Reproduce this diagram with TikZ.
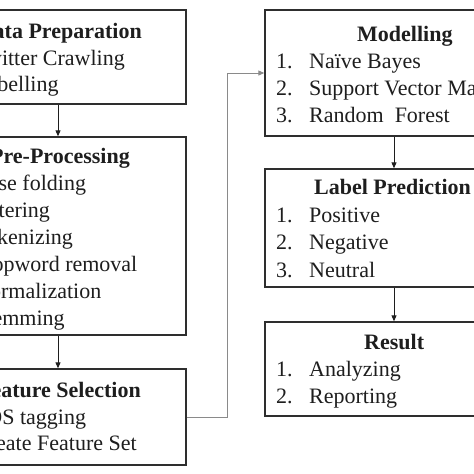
\documentclass[tikz,border=0pt]{standalone}
\usepackage{fontspec}
\setmainfont{Liberation Serif}
\usetikzlibrary{arrows.meta}
\definecolor{ink}{HTML}{1E1E1E}
\definecolor{edge}{HTML}{2E2E2E}
\definecolor{link}{HTML}{8A8A8A}
\tikzset{
  box/.style={draw=edge, line width=1.4pt, rectangle, inner sep=0pt},
  txt/.style={anchor=base west, inner sep=0pt, text=ink, font=\fontsize{22}{26}\selectfont},
  head/.style={txt, font=\fontsize{22}{26}\selectfont\bfseries},
  flow/.style={draw=ink, line width=1pt, -{Triangle[length=6pt,width=5pt]}},
  feed/.style={draw=link, line width=1pt, -{Triangle[length=6pt,width=5pt]}}
}
\begin{document}
\begin{tikzpicture}[x=1pt,y=-1pt]
\useasboundingbox (0,0) rectangle (474,474);
\clip (0,0) rectangle (474,474);
\fill[white] (0,0) rectangle (474,474);
% boxes
\node[box, minimum width=256pt, minimum height=94pt] (b1) at (58,57) {};
\node[box, minimum width=256pt, minimum height=198pt] (b2) at (58,236) {};
\node[box, minimum width=256pt, minimum height=96pt] (b3) at (58,417) {};
\node[box, minimum width=258pt, minimum height=126pt] (b4) at (394,73) {};
\node[box, minimum width=258pt, minimum height=118pt] (b5) at (394,228) {};
\node[box, minimum width=258pt, minimum height=94pt] (b6) at (394,369) {};
% left texts
\node[head, anchor=base east] (h1) at (142,38) {Data Preparation};
\node[txt] (t11) at (-26,65) {Twitter Crawling};
\node[txt] (t12) at (-26,91) {Labelling};
\node[head, anchor=base east] (h2) at (130,163) {Pre-Processing};
\node[txt] (t21) at (-26,190) {Case folding};
\node[txt] (t22) at (-26,217) {Filtering};
\node[txt] (t23) at (-26,244) {Tokenizing};
\node[txt] (t24) at (-26,271) {Stopword removal};
\node[txt] (t25) at (-26,298) {Normalization};
\node[txt] (t26) at (-26,325) {Stemming};
\node[head, anchor=base east] (h3) at (141,397) {Feature Selection};
\node[txt] (t31) at (-26,424) {POS tagging};
\node[txt] (t32) at (-26,450) {Create Feature Set};
% right texts
\node[head] (h4) at (357,41) {Modelling};
\node[txt] (n41) at (276,68) {1.};
\node[txt] (t41) at (309,68) {Naïve Bayes};
\node[txt] (n42) at (276,95) {2.};
\node[txt] (t42) at (309,95) {Support Vector Machine};
\node[txt] (n43) at (276,122) {3.};
\node[txt] (t43) at (309,122) {Random\ \ Forest};
\node[head] (h5) at (314,194) {Label Prediction};
\node[txt] (n51) at (276,222) {1.};
\node[txt] (t51) at (309,222) {Positive};
\node[txt] (n52) at (276,249) {2.};
\node[txt] (t52) at (309,249) {Negative};
\node[txt] (n53) at (276,277) {3.};
\node[txt] (t53) at (309,277) {Neutral};
\node[head] (h6) at (364,349) {Result};
\node[txt] (n61) at (276,376) {1.};
\node[txt] (t61) at (309,376) {Analyzing};
\node[txt] (n62) at (276,403) {2.};
\node[txt] (t62) at (309,403) {Reporting};
% connectors
\draw[flow] (b1.south) -- (b2.north);
\draw[flow] (b2.south) -- (b3.north);
\coordinate (c1) at (227,417);
\coordinate (c2) at (227,73);
\draw[feed] (b3.east) -- (c1) -- (c2) -- (b4.west);
\draw[flow] (b4.south -| 394,0) -- (b5.north);
\draw[flow] (b5.south) -- (b6.north);
\end{tikzpicture}
\end{document}
